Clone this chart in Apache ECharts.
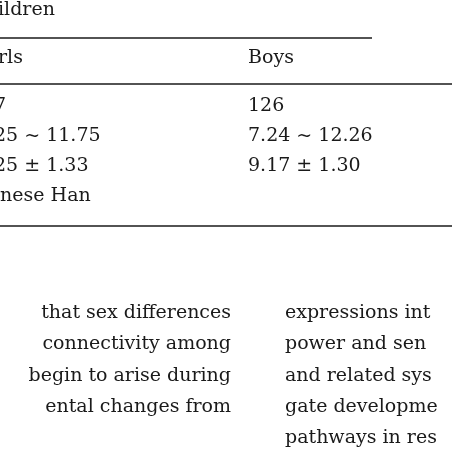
<!DOCTYPE html>
<html><head><meta charset="utf-8">
<script src="https://cdn.jsdelivr.net/npm/echarts@6/dist/echarts.min.js"></script>
<style>html,body{margin:0;padding:0;background:#fff}#c{width:452px;height:452px}</style>
</head><body><div id="c"></div>
<script>
const caption = "ildren";
const colHeaders = ["rls", "Boys"];
const girlsCol = ["7", "25 ~ 11.75", "25 ± 1.33", "inese Han"];
const boysCol = ["126", "7.24 ~ 12.26", "9.17 ± 1.30", ""];
const leftPara = ["that sex differences", "connectivity among", "begin to arise during", "ental changes from"];
const rightPara = ["expressions int", "power and sen", "and related sys", "gate developme", "pathways in res"];

const font = '"DejaVu Serif", "Liberation Serif", serif';
const ink = '#1a1a1a';
const els = [];
function txt(x, y, s, align) {
  els.push({type:'text', x, y, style:{text:s, font:'19px ' + font, fill:ink, textAlign:align||'left', textVerticalAlign:'middle'}});
}
function line(x1, y, x2) {
  els.push({type:'line', shape:{x1, y1:y, x2, y2:y}, style:{stroke:ink, lineWidth:1.5}});
}
txt(-2, 10, caption);
line(0, 38, 372);
txt(-2, 58, colHeaders[0]);
txt(248, 58, colHeaders[1]);
line(0, 84, 452);
girlsCol.forEach((s, i) => txt(-6, 106 + i * 30, s));
boysCol.forEach((s, i) => txt(248, 106 + i * 30, s));
line(0, 226, 452);
leftPara.forEach((s, i) => txt(231, 313 + i * 31.3, s, 'right'));
rightPara.forEach((s, i) => txt(285, 313 + i * 31.3, s));

const chart = echarts.init(document.getElementById('c'));
chart.setOption({animation:false, graphic:{elements:els}});
</script></body></html>
